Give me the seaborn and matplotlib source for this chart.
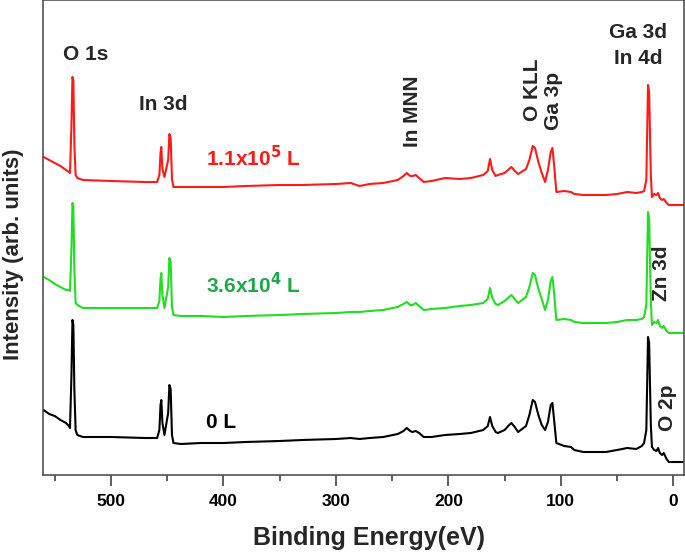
import matplotlib
matplotlib.use("Agg")
import matplotlib.pyplot as plt
import seaborn as sns
import pandas as pd
from matplotlib.ticker import MultipleLocator

# Binding energy (eV) sample points
energy = [560, 555, 550, 545, 540, 537.5, 536.5, 535.2, 534.3, 533.5, 532.6, 531.5, 530, 525,
          500, 470, 459, 457, 456, 455.3, 454.3, 452.5, 449.2, 448.1, 447, 445.8, 444.5, 438,
          420, 400, 380, 350, 330, 300, 287, 279, 270, 258, 245, 240, 237, 234, 232, 229, 226,
          222, 215, 203, 190, 180, 169, 165, 163, 161, 158, 156, 150, 146, 144, 141, 138, 131,
          128, 125, 123, 120, 117, 114, 111.5, 109, 107.5, 106, 104, 97, 91, 88, 80, 70, 60,
          50, 41, 33, 28, 26, 24, 22.5, 21.5, 20, 19, 17, 15, 13.5, 12, 10, 8.5, 6, 4, -9]

# Intensities (arb. units), stacked as in the figure
int_0L = [65, 61, 59, 55, 52, 49, 47, 100, 155, 150, 85, 45, 40, 38,
          38, 37, 37, 45, 70, 75, 52, 40, 62, 90, 86, 40, 32, 31,
          32, 32, 33, 34, 35, 36, 37, 36, 37, 38, 41, 44, 47, 44, 43, 44, 42,
          38, 38, 40, 41, 42, 45, 49, 58, 49, 43, 42, 45, 50, 52, 48, 43, 49,
          60, 75, 73, 60, 50, 45, 53, 70, 72, 55, 32, 29, 28, 25, 23, 23, 23,
          25, 27, 26, 29, 32, 45, 138, 132, 50, 28, 25, 24, 27, 22, 20, 22, 16, 13, 13]
int_36e4 = [198, 195, 191, 188, 185, 185, 184, 225, 272, 268, 205, 172, 170, 167,
            167, 167, 167, 174, 196, 202, 180, 167, 188, 217, 213, 168, 160, 159,
            159, 158, 159, 160, 161, 162, 163, 163, 164, 165, 168, 171, 173, 170, 170, 172, 169,
            165, 166, 167, 169, 170, 172, 176, 187, 177, 171, 170, 174, 178, 180, 176, 172, 178,
            188, 202, 200, 186, 176, 165, 175, 194, 198, 182, 155, 156, 155, 153, 152, 152, 152,
            153, 155, 155, 156, 158, 170, 263, 256, 175, 150, 153, 152, 155, 149, 147, 149, 144, 142, 142]
int_11e5 = [318, 315, 312, 309, 305, 303, 302, 350, 398, 394, 330, 300, 297, 295,
            294, 293, 293, 300, 322, 328, 306, 298, 315, 341, 337, 296, 288, 288,
            288, 288, 289, 290, 290, 291, 292, 289, 291, 292, 295, 299, 302, 299, 299, 300, 297,
            293, 294, 297, 296, 297, 300, 304, 316, 305, 299, 300, 302, 306, 308, 304, 301, 306,
            315, 329, 327, 313, 302, 293, 305, 323, 327, 310, 283, 284, 283, 281, 280, 280, 280,
            281, 283, 282, 283, 284, 295, 390, 383, 300, 278, 281, 280, 282, 277, 275, 276, 272, 270, 270]

assert len(energy) == len(int_0L) == len(int_36e4) == len(int_11e5)

series_names = ["0 L", "3.6x10$^4$ L", "1.1x10$^5$ L"]
line_colors = ["#000000", "#22DD22", "#FF1A1A"]
text_colors = ["#000000", "#1FA84A", "#FF1A1A"]

xticks = [500, 400, 300, 200, 100, 0]

rows = []
for name, vals in zip(series_names, [int_0L, int_36e4, int_11e5]):
    for e, v in zip(energy, vals):
        rows.append({"energy": e, "intensity": v, "sample": name})
df = pd.DataFrame(rows)

sns.set_theme(style="ticks")
plt.rcParams['font.family'] = ['Liberation Sans', 'DejaVu Sans']
plt.rcParams['font.weight'] = 'bold'

fig = plt.figure(figsize=(6.85, 5.53), dpi=100)
ax = fig.add_axes([43/685, 78/553, 641/685, 475/553])

sns.lineplot(data=df, x="energy", y="intensity", hue="sample",
             palette=dict(zip(series_names, line_colors)),
             estimator=None, sort=True, linewidth=1.5, legend=False, ax=ax)

ax.set_xlim(560.5, -9.5)
ax.set_ylim(0, 475)
ax.set_xticks(xticks)
ax.set_xticklabels([str(t) for t in xticks], fontsize=12.5, fontweight='bold')
ax.xaxis.set_minor_locator(MultipleLocator(50))
ax.tick_params(axis='x', which='major', direction='out', length=8, width=1.1, pad=6,
               colors='#333333', labelcolor='black')
ax.tick_params(axis='x', which='minor', direction='out', length=4.5, width=1.1, colors='#333333')
ax.set_yticks([])
for s in ax.spines.values():
    s.set_visible(True)
    s.set_color('#444444')
    s.set_linewidth(1.1)

ax.set_xlabel("Binding Energy(eV)", fontsize=18, fontweight='bold')
ax.xaxis.set_label_coords(0.508, -0.108)
ax.set_ylabel("Intensity (arb. units)", fontsize=16, fontweight='bold')
ax.yaxis.set_label_coords(-0.029, 0.465)

fs = 15
ax.text(522.4, 421, "O 1s", fontsize=fs, fontweight='bold', ha='center', va='center')
ax.text(453.8, 370, "In 3d", fontsize=fs, fontweight='bold', ha='center', va='center')
ax.text(415.5, 317, series_names[2], fontsize=fs, fontweight='bold', ha='left', va='center', color=text_colors[2])
ax.text(415.5, 190, series_names[1], fontsize=fs, fontweight='bold', ha='left', va='center', color=text_colors[1])
ax.text(415.5, 53, series_names[0], fontsize=fs, fontweight='bold', ha='left', va='center', color=text_colors[0])
ax.text(232.1, 364, "In MNN", fontsize=fs, fontweight='bold', ha='center', va='center', rotation=90)
ax.text(125.3, 385, "O KLL", fontsize=fs, fontweight='bold', ha='center', va='center', rotation=90)
ax.text(106.5, 374, "Ga 3p", fontsize=fs, fontweight='bold', ha='center', va='center', rotation=90)
ax.text(31.3, 442, "Ga 3d", fontsize=fs, fontweight='bold', ha='center', va='center')
ax.text(30.9, 417, "In 4d", fontsize=fs, fontweight='bold', ha='center', va='center')
ax.text(10.4, 202, "Zn 3d", fontsize=fs, fontweight='bold', ha='center', va='center', rotation=90)
ax.text(5.1, 67, "O 2p", fontsize=fs, fontweight='bold', ha='center', va='center', rotation=90)

fig.savefig("out.png", dpi=100)
